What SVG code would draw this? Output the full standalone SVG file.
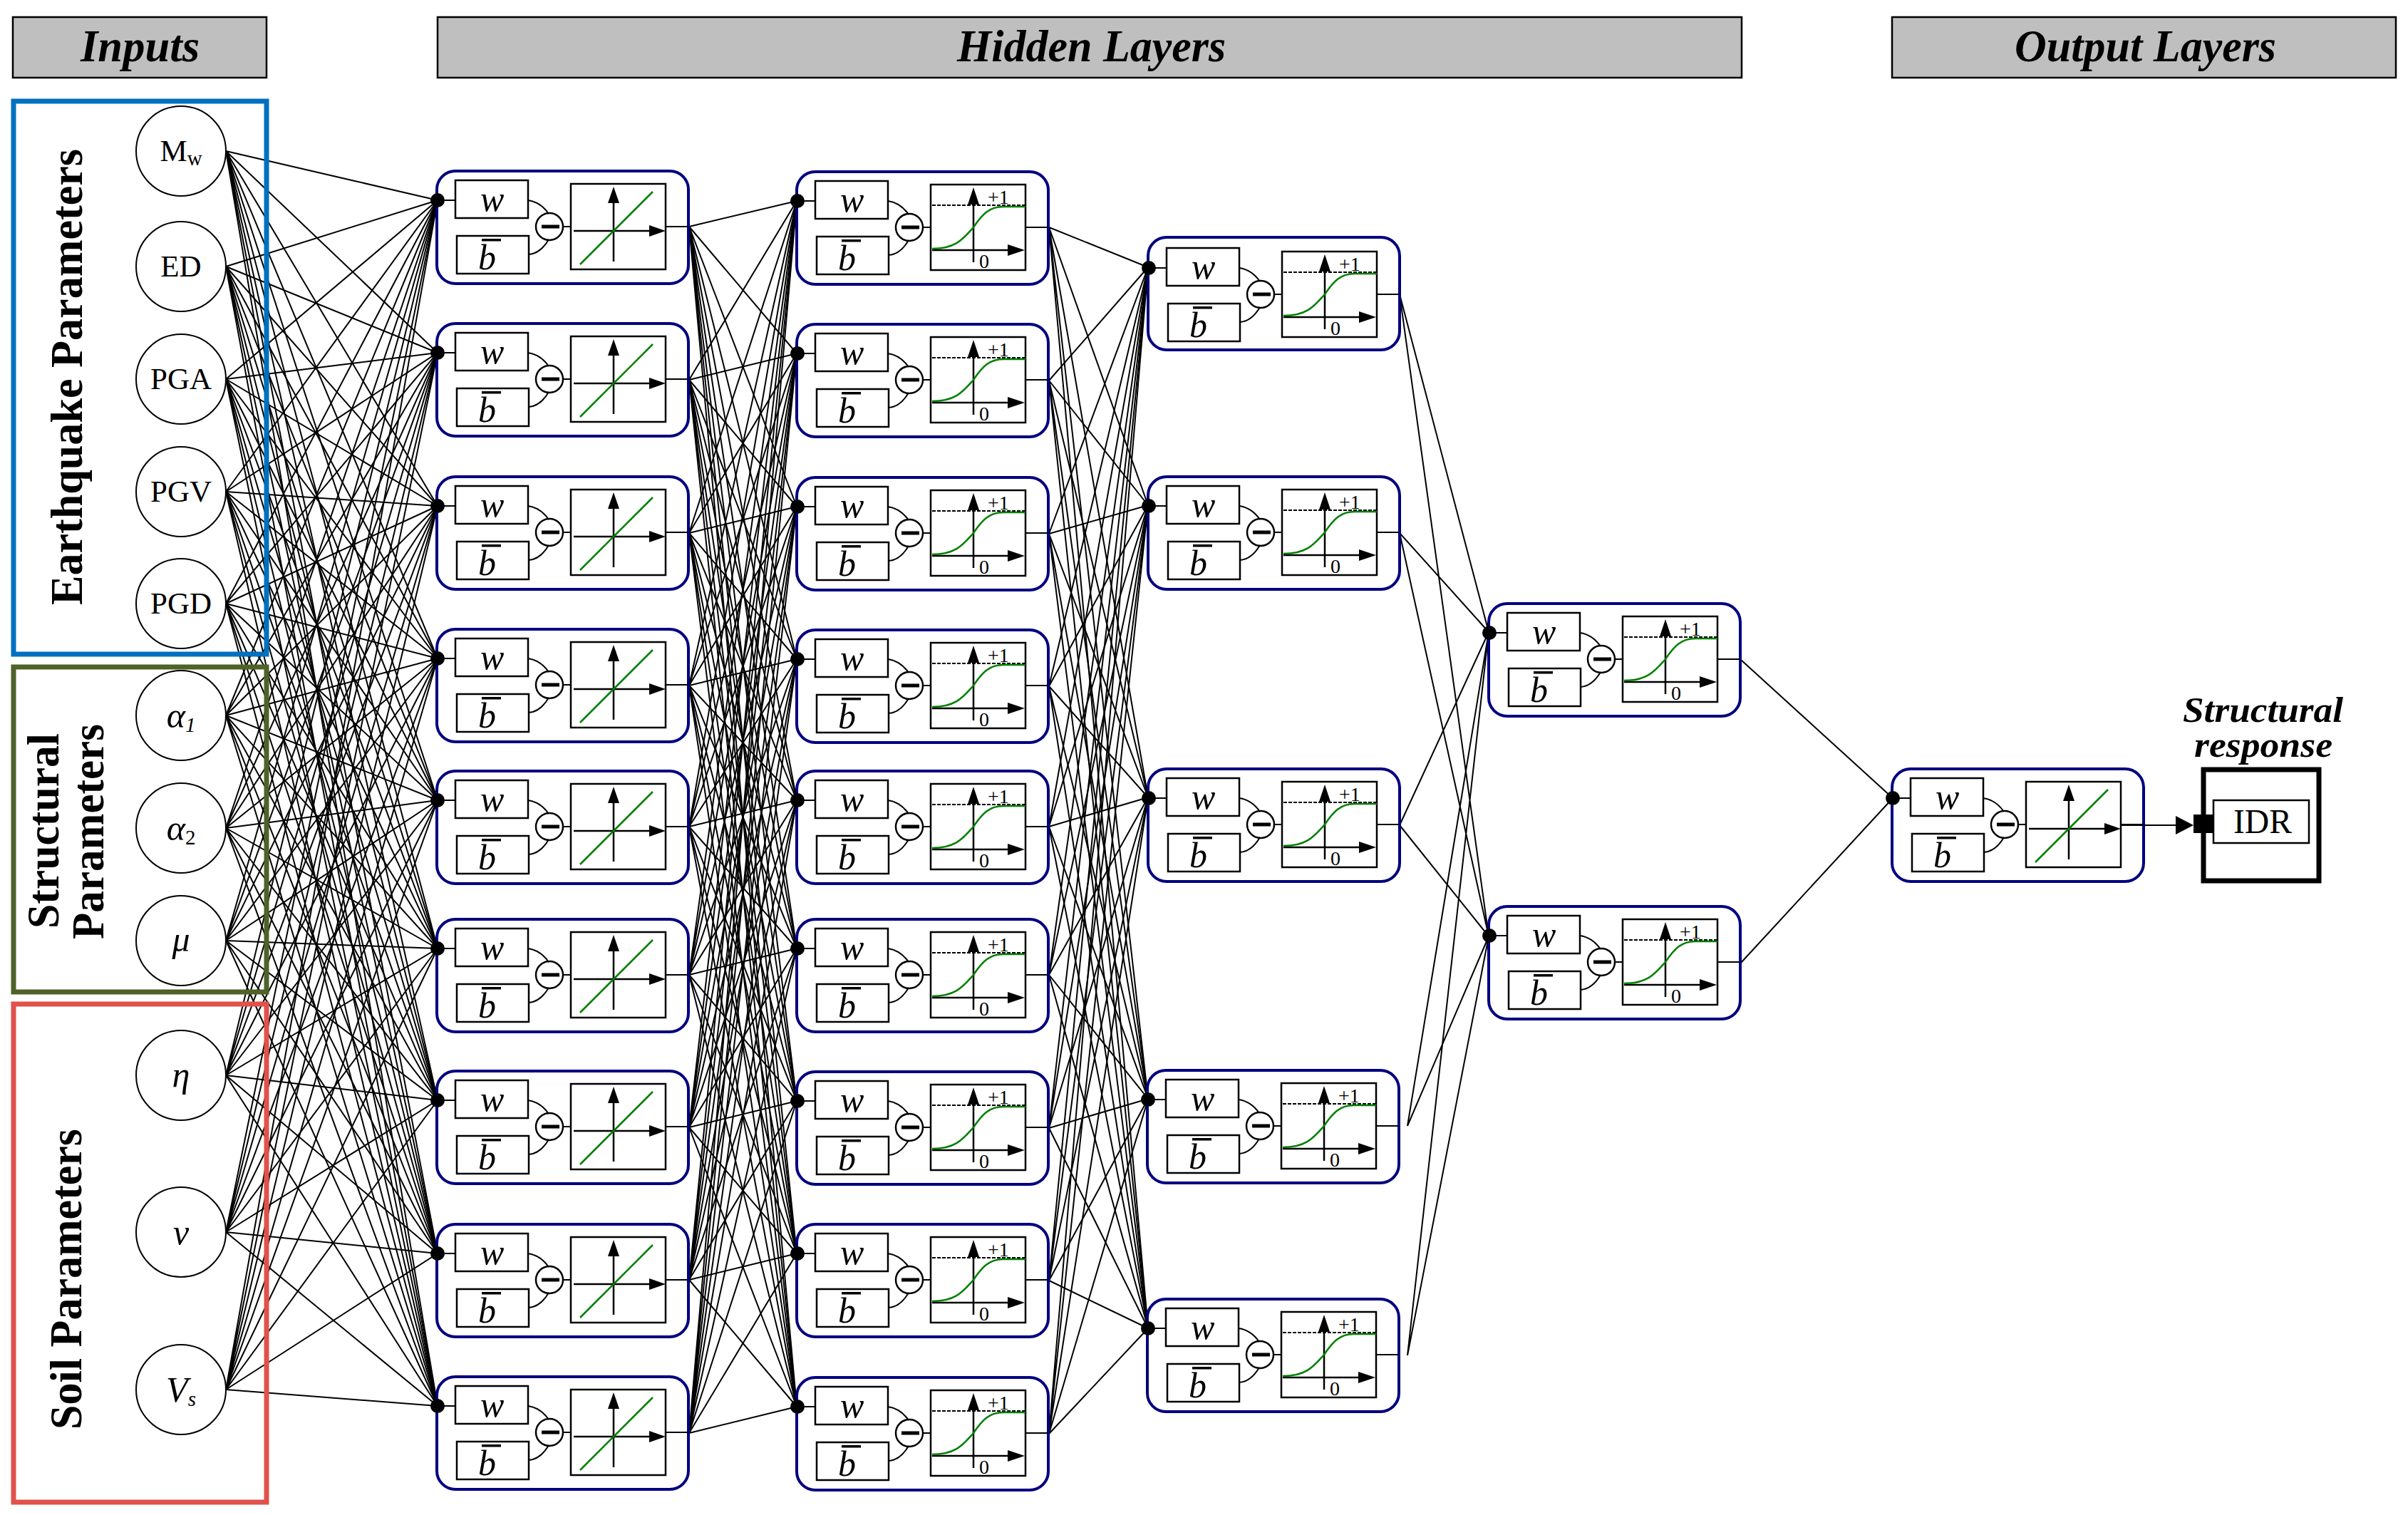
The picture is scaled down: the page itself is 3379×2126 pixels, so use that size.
<svg xmlns="http://www.w3.org/2000/svg" xmlns:xlink="http://www.w3.org/1999/xlink" width="3379" height="2126" viewBox="0 0 3379 2126">
<style>
text{font-family:"Liberation Serif","Times New Roman",serif;fill:#000}
.hd{fill:#BFBFBF;stroke:#000;stroke-width:2.5}
.ht{font-size:64px;font-weight:bold;font-style:italic}
.gt{font-size:64px;font-weight:bold}
.grp{fill:none;stroke-width:7}
.inp{fill:none;stroke:#000;stroke-width:2}
.il{font-size:43px;text-anchor:middle}
.ig{font-size:50px;font-style:italic;text-anchor:middle}
.sb{font-size:29px}
.wb{font-size:50px;font-style:italic}
.tick{font-size:28px}
.c{fill:none;stroke:#000;stroke-width:2}
.frame{fill:none;stroke:#000;stroke-width:2.5}
.outer{fill:none;stroke:#000080;stroke-width:4}
.ax{stroke:#000;stroke-width:2.5;fill:none}
.gr{fill:none;stroke:#008000;stroke-width:2.5}
.blk{fill:#000;stroke:none}
</style>
<defs>
<rect id="box" class="outer" x="0" y="0" width="353" height="158" rx="26"/>
<g id="core">
<circle class="blk" cx="1" cy="41" r="10"/>
<path class="c" d="M1 41H26M128 41C142 43 150 50 157 60M129 117C142 116 150 108 157 96M177 78H188M321 78H353"/>
<rect class="frame" x="26" y="13" width="102" height="53"/>
<rect class="frame" x="28" y="91" width="101" height="53"/>
<rect class="blk" x="63" y="95" width="27" height="3.5"/>
<circle class="frame" cx="158" cy="78" r="19"/>
<rect class="blk" x="147" y="75.500" width="25" height="5"/>
<rect class="frame" x="188" y="18" width="133" height="120"/>
</g>
<g id="lin">
<use href="#box"/>
<use href="#core"/>
<path class="ax" d="M248 40V127M192 84H302"/>
<polygon class="blk" points="248,22 256,45 240,45"/>
<polygon class="blk" points="321,84 298,76 298,92"/>
<path class="gr" d="M201 131L303 29"/>
</g>
<g id="sigbody">
<use href="#core"/>
<path class="ax" d="M248 44V127M190 110H298"/>
<path class="c" stroke-dasharray="5 2" d="M190 47H321"/>
<polygon class="blk" points="248,22 256,46 240,46"/>
<polygon class="blk" points="320,110 296,102 296,118"/>
<path class="gr" d="M190 108C225 108 235 92 248 78C260 60 270 49 290 49L321 49"/>
</g>
<g id="sig">
<use href="#box"/>
<use href="#sigbody"/>
</g>
</defs>

<g id="connectors" class="c">
<path id="c-in-1" d="M317 212L614 281M317 212L614 495M317 212L614 710M317 212L614 924M317 212L614 1123M317 212L614 1331M317 212L614 1544M317 212L614 1759M317 212L614 1973"/>
<path id="c-in-2" d="M317 374L614 281M317 374L614 495M317 374L614 710M317 374L614 924M317 374L614 1123M317 374L614 1331M317 374L614 1544M317 374L614 1759M317 374L614 1973"/>
<path id="c-in-3" d="M317 532L614 281M317 532L614 495M317 532L614 710M317 532L614 924M317 532L614 1123M317 532L614 1331M317 532L614 1544M317 532L614 1759M317 532L614 1973"/>
<path id="c-in-4" d="M317 690L614 281M317 690L614 495M317 690L614 710M317 690L614 924M317 690L614 1123M317 690L614 1331M317 690L614 1544M317 690L614 1759M317 690L614 1973"/>
<path id="c-in-5" d="M317 847L614 281M317 847L614 495M317 847L614 710M317 847L614 924M317 847L614 1123M317 847L614 1331M317 847L614 1544M317 847L614 1759M317 847L614 1973"/>
<path id="c-in-6" d="M317 1004L614 281M317 1004L614 495M317 1004L614 710M317 1004L614 924M317 1004L614 1123M317 1004L614 1331M317 1004L614 1544M317 1004L614 1759M317 1004L614 1973"/>
<path id="c-in-7" d="M317 1162L614 281M317 1162L614 495M317 1162L614 710M317 1162L614 924M317 1162L614 1123M317 1162L614 1331M317 1162L614 1544M317 1162L614 1759M317 1162L614 1973"/>
<path id="c-in-8" d="M317 1320L614 281M317 1320L614 495M317 1320L614 710M317 1320L614 924M317 1320L614 1123M317 1320L614 1331M317 1320L614 1544M317 1320L614 1759M317 1320L614 1973"/>
<path id="c-in-9" d="M317 1509L614 281M317 1509L614 495M317 1509L614 710M317 1509L614 924M317 1509L614 1123M317 1509L614 1331M317 1509L614 1544M317 1509L614 1759M317 1509L614 1973"/>
<path id="c-in-10" d="M317 1729L614 281M317 1729L614 495M317 1729L614 710M317 1729L614 924M317 1729L614 1123M317 1729L614 1331M317 1729L614 1544M317 1729L614 1759M317 1729L614 1973"/>
<path id="c-in-11" d="M317 1950L614 281M317 1950L614 495M317 1950L614 710M317 1950L614 924M317 1950L614 1123M317 1950L614 1331M317 1950L614 1544M317 1950L614 1759M317 1950L614 1973"/>

<path id="c-a-1" d="M967 318L1118 282M967 318L1118 496M967 318L1118 711M967 318L1118 925M967 318L1118 1123M967 318L1118 1331M967 318L1118 1545M967 318L1118 1759M967 318L1118 1974"/>
<path id="c-a-2" d="M967 533L1118 282M967 533L1118 496M967 533L1118 711M967 533L1118 925M967 533L1118 1123M967 533L1118 1331M967 533L1118 1545M967 533L1118 1759M967 533L1118 1974"/>
<path id="c-a-3" d="M967 748L1118 282M967 748L1118 496M967 748L1118 711M967 748L1118 925M967 748L1118 1123M967 748L1118 1331M967 748L1118 1545M967 748L1118 1759M967 748L1118 1974"/>
<path id="c-a-4" d="M967 962L1118 282M967 962L1118 496M967 962L1118 711M967 962L1118 925M967 962L1118 1123M967 962L1118 1331M967 962L1118 1545M967 962L1118 1759M967 962L1118 1974"/>
<path id="c-a-5" d="M967 1160L1118 282M967 1160L1118 496M967 1160L1118 711M967 1160L1118 925M967 1160L1118 1123M967 1160L1118 1331M967 1160L1118 1545M967 1160L1118 1759M967 1160L1118 1974"/>
<path id="c-a-6" d="M967 1368L1118 282M967 1368L1118 496M967 1368L1118 711M967 1368L1118 925M967 1368L1118 1123M967 1368L1118 1331M967 1368L1118 1545M967 1368L1118 1759M967 1368L1118 1974"/>
<path id="c-a-7" d="M967 1582L1118 282M967 1582L1118 496M967 1582L1118 711M967 1582L1118 925M967 1582L1118 1123M967 1582L1118 1331M967 1582L1118 1545M967 1582L1118 1759M967 1582L1118 1974"/>
<path id="c-a-8" d="M967 1796L1118 282M967 1796L1118 496M967 1796L1118 711M967 1796L1118 925M967 1796L1118 1123M967 1796L1118 1331M967 1796L1118 1545M967 1796L1118 1759M967 1796L1118 1974"/>
<path id="c-a-9" d="M967 2011L1118 282M967 2011L1118 496M967 2011L1118 711M967 2011L1118 925M967 2011L1118 1123M967 2011L1118 1331M967 2011L1118 1545M967 2011L1118 1759M967 2011L1118 1974"/>

<path id="c-b-1" d="M1472 319L1611 375M1472 319L1611 709M1472 319L1611 1119M1472 319L1611 1542M1472 319L1611 1864"/>
<path id="c-b-2" d="M1472 534L1611 375M1472 534L1611 709M1472 534L1611 1119M1472 534L1611 1542M1472 534L1611 1864"/>
<path id="c-b-3" d="M1472 749L1611 375M1472 749L1611 709M1472 749L1611 1119M1472 749L1611 1542M1472 749L1611 1864"/>
<path id="c-b-4" d="M1472 963L1611 375M1472 963L1611 709M1472 963L1611 1119M1472 963L1611 1542M1472 963L1611 1864"/>
<path id="c-b-5" d="M1472 1160L1611 375M1472 1160L1611 709M1472 1160L1611 1119M1472 1160L1611 1542M1472 1160L1611 1864"/>
<path id="c-b-6" d="M1472 1368L1611 375M1472 1368L1611 709M1472 1368L1611 1119M1472 1368L1611 1542M1472 1368L1611 1864"/>
<path id="c-b-7" d="M1472 1583L1611 375M1472 1583L1611 709M1472 1583L1611 1119M1472 1583L1611 1542M1472 1583L1611 1864"/>
<path id="c-b-8" d="M1472 1797L1611 375M1472 1797L1611 709M1472 1797L1611 1119M1472 1797L1611 1542M1472 1797L1611 1864"/>
<path id="c-b-9" d="M1472 2012L1611 375M1472 2012L1611 709M1472 2012L1611 1119M1472 2012L1611 1542M1472 2012L1611 1864"/>

<path id="c-c" d="M1964 413L2089 887M1964 413L2089 1314M1964 748L2089 887M1964 748L2089 1314M1964 1158L2089 887M1964 1158L2089 1314M1975 1580L2089 887M1975 1580L2089 1314M1975 1902L2089 887M1975 1902L2089 1314"/>
<path id="c-d" d="M2443 926L2656 1120M2443 1351L2656 1120"/>
</g>

<g id="header-inputs"><rect class="hd" x="18" y="24" width="356" height="85"/><text class="ht" x="113" y="86" textLength="167" lengthAdjust="spacingAndGlyphs">Inputs</text></g>
<g id="header-hidden"><rect class="hd" x="614" y="24" width="1830" height="85"/><text class="ht" x="1343" y="86" textLength="377" lengthAdjust="spacingAndGlyphs">Hidden Layers</text></g>
<g id="header-output"><rect class="hd" x="2655" y="24" width="707" height="85"/><text class="ht" x="2827" y="86" textLength="367" lengthAdjust="spacingAndGlyphs">Output Layers</text></g>

<g id="group-earthquake"><rect class="grp" stroke="#0070C0" x="19" y="142" width="355" height="776"/><text class="gt" transform="translate(115,849) rotate(-90)" textLength="640" lengthAdjust="spacingAndGlyphs">Earthquake Parameters</text></g>
<g id="group-structural"><rect class="grp" stroke="#4F6228" x="19" y="936" width="355" height="456"/><text class="gt" transform="translate(82,1303) rotate(-90)" textLength="274" lengthAdjust="spacingAndGlyphs">Structural</text><text class="gt" transform="translate(145,1318) rotate(-90)" textLength="302" lengthAdjust="spacingAndGlyphs">Parameters</text></g>
<g id="group-soil"><rect class="grp" stroke="#E0524A" x="19" y="1409" width="355" height="699"/><text class="gt" transform="translate(114,2006) rotate(-90)" textLength="422" lengthAdjust="spacingAndGlyphs">Soil Parameters</text></g>

<g id="in-mw"><circle class="inp" cx="254" cy="212" r="63"/><text class="il" x="254" y="226">M<tspan class="sb" dy="6">w</tspan></text></g>
<g id="in-ed"><circle class="inp" cx="254" cy="374" r="63"/><text class="il" x="254" y="388">ED</text></g>
<g id="in-pga"><circle class="inp" cx="254" cy="532" r="63"/><text class="il" x="254" y="546">PGA</text></g>
<g id="in-pgv"><circle class="inp" cx="254" cy="690" r="63"/><text class="il" x="254" y="704">PGV</text></g>
<g id="in-pgd"><circle class="inp" cx="254" cy="847" r="63"/><text class="il" x="254" y="861">PGD</text></g>
<g id="in-a1"><circle class="inp" cx="254" cy="1004" r="63"/><text class="ig" x="254" y="1021">α<tspan class="sb" dy="6">1</tspan></text></g>
<g id="in-a2"><circle class="inp" cx="254" cy="1162" r="63"/><text class="ig" x="254" y="1179">α<tspan class="sb" dy="6" font-style="normal">2</tspan></text></g>
<g id="in-mu"><circle class="inp" cx="254" cy="1320" r="63"/><text class="ig" x="254" y="1335">μ</text></g>
<g id="in-eta"><circle class="inp" cx="254" cy="1509" r="63"/><text class="ig" x="254" y="1525">η</text></g>
<g id="in-nu"><circle class="inp" cx="254" cy="1729" r="63"/><text class="ig" x="254" y="1746">v</text></g>
<g id="in-vs"><circle class="inp" cx="254" cy="1950" r="63"/><text class="ig" x="254" y="1967">V<tspan class="sb" dy="6">s</tspan></text></g>

<g id="h1-1" transform="translate(613,240)"><use href="#lin"/><text class="wb" x="61" y="56">w</text><text class="wb" x="58" y="138">b</text></g>
<g id="h1-2" transform="translate(613,454)"><use href="#lin"/><text class="wb" x="61" y="56">w</text><text class="wb" x="58" y="138">b</text></g>
<g id="h1-3" transform="translate(613,669)"><use href="#lin"/><text class="wb" x="61" y="56">w</text><text class="wb" x="58" y="138">b</text></g>
<g id="h1-4" transform="translate(613,883)"><use href="#lin"/><text class="wb" x="61" y="56">w</text><text class="wb" x="58" y="138">b</text></g>
<g id="h1-5" transform="translate(613,1082)"><use href="#lin"/><text class="wb" x="61" y="56">w</text><text class="wb" x="58" y="138">b</text></g>
<g id="h1-6" transform="translate(613,1290)"><use href="#lin"/><text class="wb" x="61" y="56">w</text><text class="wb" x="58" y="138">b</text></g>
<g id="h1-7" transform="translate(613,1503)"><use href="#lin"/><text class="wb" x="61" y="56">w</text><text class="wb" x="58" y="138">b</text></g>
<g id="h1-8" transform="translate(613,1718)"><use href="#lin"/><text class="wb" x="61" y="56">w</text><text class="wb" x="58" y="138">b</text></g>
<g id="h1-9" transform="translate(613,1932)"><use href="#lin"/><text class="wb" x="61" y="56">w</text><text class="wb" x="58" y="138">b</text></g>

<g id="h2-1" transform="translate(1118,241)"><use href="#sig"/><text class="wb" x="61" y="56">w</text><text class="wb" x="58" y="138">b</text><text class="tick" x="268" y="45">+1</text><text class="tick" x="256" y="135">0</text></g>
<g id="h2-2" transform="translate(1118,455)"><use href="#sig"/><text class="wb" x="61" y="56">w</text><text class="wb" x="58" y="138">b</text><text class="tick" x="268" y="45">+1</text><text class="tick" x="256" y="135">0</text></g>
<g id="h2-3" transform="translate(1118,670)"><use href="#sig"/><text class="wb" x="61" y="56">w</text><text class="wb" x="58" y="138">b</text><text class="tick" x="268" y="45">+1</text><text class="tick" x="256" y="135">0</text></g>
<g id="h2-4" transform="translate(1118,884)"><use href="#sig"/><text class="wb" x="61" y="56">w</text><text class="wb" x="58" y="138">b</text><text class="tick" x="268" y="45">+1</text><text class="tick" x="256" y="135">0</text></g>
<g id="h2-5" transform="translate(1118,1082)"><use href="#sig"/><text class="wb" x="61" y="56">w</text><text class="wb" x="58" y="138">b</text><text class="tick" x="268" y="45">+1</text><text class="tick" x="256" y="135">0</text></g>
<g id="h2-6" transform="translate(1118,1290)"><use href="#sig"/><text class="wb" x="61" y="56">w</text><text class="wb" x="58" y="138">b</text><text class="tick" x="268" y="45">+1</text><text class="tick" x="256" y="135">0</text></g>
<g id="h2-7" transform="translate(1118,1504)"><use href="#sig"/><text class="wb" x="61" y="56">w</text><text class="wb" x="58" y="138">b</text><text class="tick" x="268" y="45">+1</text><text class="tick" x="256" y="135">0</text></g>
<g id="h2-8" transform="translate(1118,1718)"><use href="#sig"/><text class="wb" x="61" y="56">w</text><text class="wb" x="58" y="138">b</text><text class="tick" x="268" y="45">+1</text><text class="tick" x="256" y="135">0</text></g>
<g id="h2-9" transform="translate(1118,1933)"><use href="#sig"/><text class="wb" x="61" y="56">w</text><text class="wb" x="58" y="138">b</text><text class="tick" x="268" y="45">+1</text><text class="tick" x="256" y="135">0</text></g>

<g id="h3-1"><rect class="outer" x="1611" y="333" width="353" height="158" rx="26"/><g transform="translate(1611,335)"><use href="#sigbody"/><text class="wb" x="61" y="56">w</text><text class="wb" x="58" y="138">b</text><text class="tick" x="268" y="45">+1</text><text class="tick" x="256" y="135">0</text></g></g>
<g id="h3-2" transform="translate(1611,669)"><use href="#sig"/><text class="wb" x="61" y="56">w</text><text class="wb" x="58" y="138">b</text><text class="tick" x="268" y="45">+1</text><text class="tick" x="256" y="135">0</text></g>
<g id="h3-3" transform="translate(1611,1079)"><use href="#sig"/><text class="wb" x="61" y="56">w</text><text class="wb" x="58" y="138">b</text><text class="tick" x="268" y="45">+1</text><text class="tick" x="256" y="135">0</text></g>
<g id="h3-4" transform="translate(1610,1502)"><use href="#sig"/><text class="wb" x="61" y="56">w</text><text class="wb" x="58" y="138">b</text><text class="tick" x="268" y="45">+1</text><text class="tick" x="256" y="135">0</text></g>
<g id="h3-5" transform="translate(1610,1823)"><use href="#sig"/><text class="wb" x="61" y="56">w</text><text class="wb" x="58" y="138">b</text><text class="tick" x="268" y="45">+1</text><text class="tick" x="256" y="135">0</text></g>

<g id="h4-1" transform="translate(2089,847)"><use href="#sig"/><text class="wb" x="61" y="56">w</text><text class="wb" x="58" y="138">b</text><text class="tick" x="268" y="45">+1</text><text class="tick" x="256" y="135">0</text></g>
<g id="h4-2" transform="translate(2089,1272)"><use href="#sig"/><text class="wb" x="61" y="56">w</text><text class="wb" x="58" y="138">b</text><text class="tick" x="268" y="45">+1</text><text class="tick" x="256" y="135">0</text></g>

<g id="out-1" transform="translate(2655,1079)"><use href="#lin"/><text class="wb" x="61" y="56">w</text><text class="wb" x="58" y="138">b</text></g>

<g id="out-link"><path class="c" d="M2976 1158H3056"/><polygon class="blk" points="3078,1158 3053,1145 3053,1171"/></g>
<g id="idr">
<text class="ht" style="font-size:50px" x="3063" y="1013" textLength="225" lengthAdjust="spacingAndGlyphs">Structural</text>
<text class="ht" style="font-size:50px" x="3079" y="1062" textLength="194" lengthAdjust="spacingAndGlyphs">response</text>
<rect x="3092" y="1080" width="162" height="156" fill="none" stroke="#000" stroke-width="7"/>
<rect class="blk" x="3078" y="1143" width="27" height="26"/>
<rect class="frame" x="3106" y="1123" width="134" height="60"/>
<text x="3134" y="1169" font-size="48" textLength="82" lengthAdjust="spacingAndGlyphs">IDR</text>
</g>
</svg>
